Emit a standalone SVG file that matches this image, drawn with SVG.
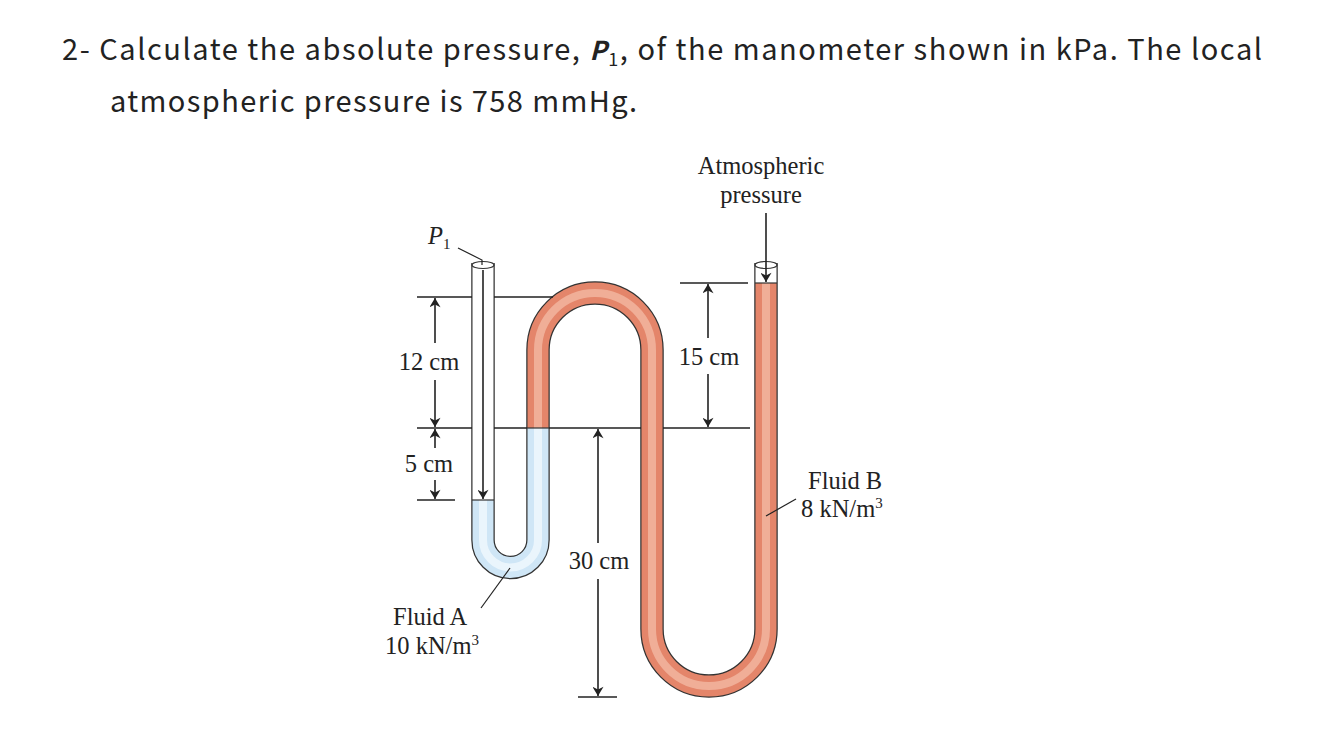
<svg xmlns="http://www.w3.org/2000/svg" width="1324" height="750" viewBox="0 0 1324 750">
<style>
.q{font-family:"Noto Sans CJK JP","Noto Sans",sans-serif;font-size:29px;fill:#222}
.l{font-family:"Liberation Serif",serif;font-size:24.5px;fill:#222}
.ln{stroke:#222;stroke-width:1.6;fill:none}
.o{fill:none;stroke:#333;stroke-width:23.5}
.r{fill:none;stroke:#e4856a;stroke-width:21}
.rh{fill:none;stroke:#f3b8a2;stroke-width:8;opacity:0.8}
.b{fill:none;stroke:#cfe6f6;stroke-width:21}
.bh{fill:none;stroke:#eaf5fc;stroke-width:8}
.w{fill:none;stroke:#fff;stroke-width:21}
</style>
<defs>
<marker id="a" viewBox="0 0 10 12" refX="10" refY="6" markerWidth="14" markerHeight="11" orient="auto-start-reverse" markerUnits="userSpaceOnUse"><path d="M0,0 L10,6 L0,12 L3,6 Z" fill="#222"/></marker>
</defs>
<rect width="1324" height="750" fill="#fff"/>
<text class="q" x="62" y="60" textLength="1200" lengthAdjust="spacing">2- Calculate the absolute pressure, <tspan font-style="italic" font-weight="bold" font-size="26">P</tspan><tspan font-size="18" dy="6">1</tspan><tspan dy="-6">, of the manometer shown in kPa. The local</tspan></text>
<text class="q" x="110" y="112" textLength="527" lengthAdjust="spacing">atmospheric pressure is 758 mmHg.</text>

<g id="manometer">
<path class="o" d="M483,263 V540 A27.5,27.5 0 0 0 538,540 V350 A57,57 0 0 1 652,350 V629 A57,57 0 0 0 766,629 V263"/>
<path class="w" d="M483,263 V500"/>
<path class="b" d="M483,500 V540 A27.5,27.5 0 0 0 538,540 V428"/>
<path class="bh" d="M483,500 V540 A27.5,27.5 0 0 0 538,540 V428"/>
<path class="r" d="M538,428 V350 A57,57 0 0 1 652,350 V629 A57,57 0 0 0 766,629 V283"/>
<path class="rh" d="M538,428 V350 A57,57 0 0 1 652,350 V629 A57,57 0 0 0 766,629 V283"/>
<path class="w" d="M766,264 V283"/>
<line x1="472" y1="500" x2="494" y2="500" stroke="#333" stroke-width="1.2"/>
<line x1="527" y1="428" x2="549" y2="428" stroke="#333" stroke-width="1.2"/>
<line x1="755" y1="283" x2="777" y2="283" stroke="#333" stroke-width="1.2"/>
<ellipse cx="483" cy="265" rx="11" ry="3.5" fill="#fff" stroke="#333" stroke-width="1.2"/>
<ellipse cx="766" cy="265" rx="11" ry="3.5" fill="#fff" stroke="#333" stroke-width="1.2"/>
</g>

<g id="connectors">
<path class="ln" d="M417,297 H472 M494,297 H553"/>
<path class="ln" d="M417,428 H472 M494,428 H527 M549,428 H641 M663,428 H750"/>
<path class="ln" d="M417,500 H455"/>
<path class="ln" d="M680,283 H748"/>
<path class="ln" d="M578,697 H617"/>
<line class="ln" x1="435" y1="343" x2="435" y2="298" marker-end="url(#a)"/>
<line class="ln" x1="435" y1="380" x2="435" y2="427" marker-end="url(#a)"/>
<line class="ln" x1="435" y1="448" x2="435" y2="429" marker-end="url(#a)"/>
<line class="ln" x1="435" y1="480" x2="435" y2="499" marker-end="url(#a)"/>
<line class="ln" x1="708" y1="338" x2="708" y2="284" marker-end="url(#a)"/>
<line class="ln" x1="708" y1="374" x2="708" y2="427" marker-end="url(#a)"/>
<line class="ln" x1="598" y1="543" x2="598" y2="429" marker-end="url(#a)"/>
<line class="ln" x1="598" y1="579" x2="598" y2="696" marker-end="url(#a)"/>
<line class="ln" x1="483" y1="270" x2="483" y2="499" marker-end="url(#a)"/>
<line class="ln" x1="766" y1="213" x2="766" y2="282" marker-end="url(#a)"/>
<path d="M458,248 L482,260 V265" stroke="#222" stroke-width="1.2" fill="none"/>
<line x1="766" y1="516" x2="796" y2="499" stroke="#222" stroke-width="1.2"/>
<line x1="481" y1="608" x2="510" y2="568" stroke="#222" stroke-width="1.2"/>
</g>

<g id="labels">
<text class="l" x="428" y="244" font-style="italic">P<tspan font-size="15" dy="5" font-style="normal">1</tspan></text>
<text class="l" x="429" y="370" text-anchor="middle">12 cm</text>
<text class="l" x="429" y="472" text-anchor="middle">5 cm</text>
<text class="l" x="709" y="365" text-anchor="middle">15 cm</text>
<text class="l" x="599" y="569" text-anchor="middle">30 cm</text>
<text class="l" x="761" y="174" text-anchor="middle">Atmospheric</text>
<text class="l" x="761" y="203" text-anchor="middle">pressure</text>
<text class="l" x="808" y="489">Fluid B</text>
<text class="l" x="801" y="517">8 kN/m<tspan font-size="15" dy="-9">3</tspan></text>
<text class="l" x="393" y="625">Fluid A</text>
<text class="l" x="385" y="654">10 kN/m<tspan font-size="15" dy="-9">3</tspan></text>
</g>
</svg>
